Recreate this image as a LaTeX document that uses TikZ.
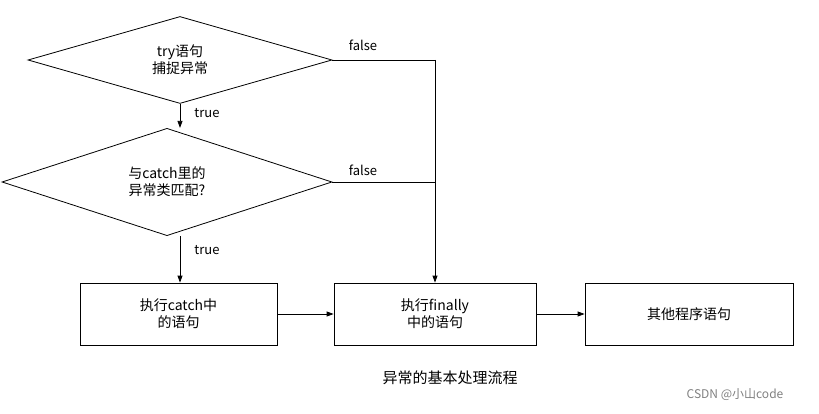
\documentclass[tikz,border=0pt]{standalone}
\usepackage{fontspec}
\setmainfont{Noto Sans CJK SC}
\usetikzlibrary{shapes.geometric,arrows.meta}
\begin{document}
\begin{tikzpicture}[x=1pt,y=-1pt,
  dec/.style={draw,diamond,inner sep=0pt,minimum width=304pt,minimum height=87pt,align=center,font=\fontsize{14}{17}\selectfont},
  box/.style={draw,rectangle,minimum height=62pt,align=center,font=\fontsize{14}{17}\selectfont},
  lbl/.style={font=\fontsize{13}{15}\selectfont},
  arr/.style={-{Triangle[length=7pt,width=5pt]}},
  line width=0.8pt]
\useasboundingbox (0,0) rectangle (819,414);
\node[dec] (d1) at (180,60) {try语句\\捕捉异常};
\node[dec,minimum width=330pt,minimum height=82pt] (d2) at (167,182) {与catch里的\\异常类匹配?};
\node[box,minimum width=197pt] (b1) at (178.5,314) {执行catch中\\的语句};
\node[box,minimum width=202pt] (b2) at (435,314) {执行finally\\中的语句};
\node[box,minimum width=208pt] (b3) at (689,314) {其他程序语句};
\coordinate (j1) at (435,60);
\coordinate (j2) at (435,182);
\draw[arr] (d1.south) -- (d1.south |- d2.north);
\draw[arr] (d2.south -| d1.south) -- (b1.north -| d1.south);
\draw (d1.east) -- (j1);
\draw[arr] (j1) -- (b2.north);
\draw (d2.east) -- (j2);
\draw[arr] (b1.east) -- (b2.west);
\draw[arr] (b2.east) -- (b3.west);
\node[lbl] (f1) at (363,45) {false};
\node[lbl] (f2) at (363,170) {false};
\node[lbl] (t1) at (207,113) {true};
\node[lbl] (t2) at (207,250) {true};
\node[font=\fontsize{15}{17}\selectfont] (cap) at (450,378) {异常的基本处理流程};
\node[font=\fontsize{12}{14}\selectfont,text=gray] (wm) at (735,395) {CSDN @小山code};
\end{tikzpicture}
\end{document}
